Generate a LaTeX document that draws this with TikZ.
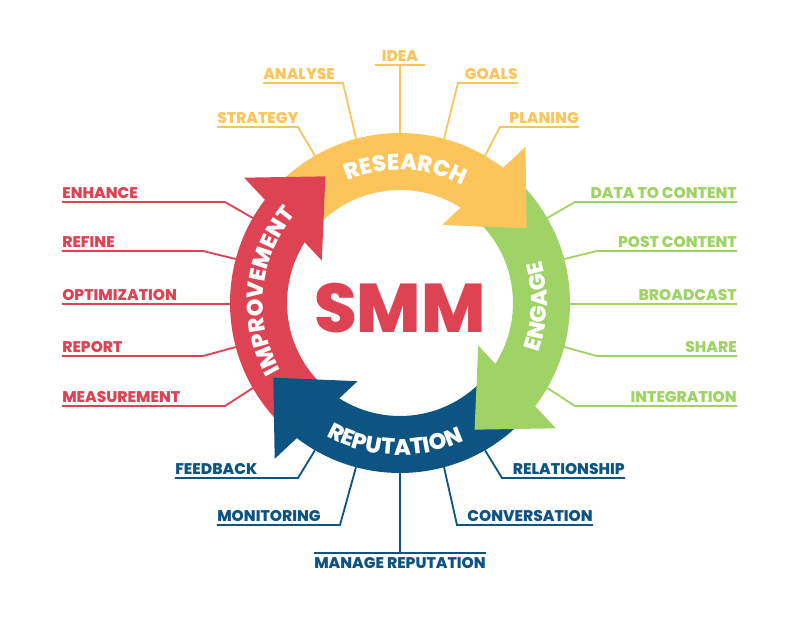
\documentclass[tikz,border=0pt]{standalone}
\usepackage{fontspec}
\setmainfont{Poppins}[BoldFont={Poppins ExtraBold}]
\usepackage{tikz}
\usetikzlibrary{decorations.text}
\definecolor{yel}{HTML}{FCC55C}
\definecolor{rd}{HTML}{DE4353}
\definecolor{grn}{HTML}{9FD366}
\definecolor{blu}{HTML}{0E5482}
\tikzset{
  lbl/.style={font=\bfseries\fontsize{11}{11}\selectfont, inner xsep=0pt, inner ysep=2pt},
  wire/.style={line width=1.3pt},
  ringtext/.style={decorate, decoration={text along path, text align=center, text color=white,
    text={|\bfseries\fontsize{16}{16}\selectfont|#1}}}
}
\begin{document}
\begin{tikzpicture}[x=0.025cm, y=0.025cm]
 \useasboundingbox (-400,-317) rectangle (400,303);

 \node[name=strategy, lbl, text=yel, anchor=south west] at (-183,176) {STRATEGY};
 \node[name=analyse, lbl, text=yel, anchor=south west] at (-137,220) {ANALYSE};
 \node[name=idea, lbl, text=yel, anchor=south, inner xsep=5pt] at (0,238) {IDEA};
 \node[name=goals, lbl, text=yel, anchor=south east] at (118,220) {GOALS};
 \node[name=planing, lbl, text=yel, anchor=south east] at (179,176) {PLANING};
 \coordinate (strategy-b) at (-102,176);
 \coordinate (analyse-b) at (-57,220);
 \coordinate (goals-b) at (58,220);
 \coordinate (planing-b) at (100,176);
 \coordinate (strategy-c) at (120:170);
 \coordinate (analyse-c) at (105:170);
 \coordinate (idea-c) at (90:170);
 \coordinate (goals-c) at (75:170);
 \coordinate (planing-c) at (60:170);
 \draw[wire, yel] (strategy.south west) -- (strategy-b) -- (strategy-c);
 \draw[wire, yel] (analyse.south west) -- (analyse-b) -- (analyse-c);
 \draw[wire, yel] (idea.south west) -- (idea.south east);
 \draw[wire, yel] (idea.south) -- (idea-c);
 \draw[wire, yel] (goals.south east) -- (goals-b) -- (goals-c);
 \draw[wire, yel] (planing.south east) -- (planing-b) -- (planing-c);

 \node[name=enhance, lbl, text=rd, anchor=south west] at (-338,101) {ENHANCE};
 \node[name=refine, lbl, text=rd, anchor=south west] at (-338,52) {REFINE};
 \node[name=optim, lbl, text=rd, anchor=south west] at (-338,-1) {OPTIMIZATION};
 \node[name=report, lbl, text=rd, anchor=south west] at (-338,-53) {REPORT};
 \node[name=measure, lbl, text=rd, anchor=south west] at (-338,-103) {MEASUREMENT};
 \coordinate (enhance-b) at (-175,101);
 \coordinate (refine-b) at (-197,52);
 \coordinate (report-b) at (-197,-53);
 \coordinate (measure-b) at (-175,-103);
 \coordinate (enhance-c) at (150:170);
 \coordinate (refine-c) at (165:170);
 \coordinate (optim-c) at (-170,-1);
 \coordinate (report-c) at (195:170);
 \coordinate (measure-c) at (210:170);
 \draw[wire, rd] (enhance.south west) -- (enhance-b) -- (enhance-c);
 \draw[wire, rd] (refine.south west) -- (refine-b) -- (refine-c);
 \draw[wire, rd] (optim.south west) -- (optim-c);
 \draw[wire, rd] (report.south west) -- (report-b) -- (report-c);
 \draw[wire, rd] (measure.south west) -- (measure-b) -- (measure-c);

 \node[name=datacont, lbl, text=grn, anchor=south east] at (337,101) {DATA TO CONTENT};
 \node[name=postcont, lbl, text=grn, anchor=south east] at (337,52) {POST CONTENT};
 \node[name=broadcast, lbl, text=grn, anchor=south east] at (337,-1) {BROADCAST};
 \node[name=share, lbl, text=grn, anchor=south east] at (337,-53) {SHARE};
 \node[name=integr, lbl, text=grn, anchor=south east] at (337,-103) {INTEGRATION};
 \coordinate (datacont-b) at (175,101);
 \coordinate (postcont-b) at (197,52);
 \coordinate (share-b) at (197,-53);
 \coordinate (integr-b) at (175,-103);
 \coordinate (datacont-c) at (30:170);
 \coordinate (postcont-c) at (15:170);
 \coordinate (broadcast-c) at (170,-1);
 \coordinate (share-c) at (-15:170);
 \coordinate (integr-c) at (-30:170);
 \draw[wire, grn] (datacont.south east) -- (datacont-b) -- (datacont-c);
 \draw[wire, grn] (postcont.south east) -- (postcont-b) -- (postcont-c);
 \draw[wire, grn] (broadcast.south east) -- (broadcast-c);
 \draw[wire, grn] (share.south east) -- (share-b) -- (share-c);
 \draw[wire, grn] (integr.south east) -- (integr-b) -- (integr-c);

 \node[name=feedback, lbl, text=blu, anchor=south west] at (-225,-175) {FEEDBACK};
 \node[name=monitor, lbl, text=blu, anchor=south west] at (-183,-222) {MONITORING};
 \node[name=manage, lbl, text=blu, anchor=north, inner ysep=3pt] at (0,-250) {MANAGE REPUTATION};
 \node[name=convers, lbl, text=blu, anchor=south east] at (193,-222) {CONVERSATION};
 \node[name=relation, lbl, text=blu, anchor=south east] at (225,-175) {RELATIONSHIP};
 \coordinate (feedback-b) at (-102,-175);
 \coordinate (monitor-b) at (-60,-222);
 \coordinate (convers-b) at (57,-222);
 \coordinate (relation-b) at (102,-175);
 \coordinate (feedback-c) at (240:170);
 \coordinate (monitor-c) at (255:170);
 \coordinate (manage-c) at (270:170);
 \coordinate (convers-c) at (285:170);
 \coordinate (relation-c) at (300:170);
 \draw[wire, blu] (feedback.south west) -- (feedback-b) -- (feedback-c);
 \draw[wire, blu] (monitor.south west) -- (monitor-b) -- (monitor-c);
 \draw[wire, blu] (manage.north west) -- (manage.north east);
 \draw[wire, blu] (manage.north) -- (manage-c);
 \draw[wire, blu] (convers.south east) -- (convers-b) -- (convers-c);
 \draw[wire, blu] (relation.south east) -- (relation-b) -- (relation-c);

 \fill[yel] (137.5:170) arc[start angle=137.5, end angle=48.5, radius=170] -- (48.5:113) arc[start angle=48.5, end angle=137.5, radius=113] -- cycle;
 \fill[yel] (30.5:147) -- (51.2:200) -- (61.5:89) -- cycle;
 \fill[rd] (227.5:170) arc[start angle=227.5, end angle=138.5, radius=170] -- (138.5:113) arc[start angle=138.5, end angle=227.5, radius=113] -- cycle;
 \fill[rd] (120.5:147) -- (141.2:200) -- (151.5:89) -- cycle;
 \fill[blu] (-42.5:170) arc[start angle=-42.5, end angle=-131.5, radius=170] -- (-131.5:113) arc[start angle=-131.5, end angle=-42.5, radius=113] -- cycle;
 \fill[blu] (-149.5:147) -- (-128.8:200) -- (-118.5:89) -- cycle;
 \fill[grn] (47.5:170) arc[start angle=47.5, end angle=-41.5, radius=170] -- (-41.5:113) arc[start angle=-41.5, end angle=47.5, radius=113] -- cycle;
 \fill[grn] (-59.5:147) -- (-38.8:200) -- (-28.5:89) -- cycle;
 \fill[yel] (30.5:147) -- (51.2:200) -- (61.5:89) -- cycle;

 \path[ringtext={RESEARCH}] (140:133) arc[start angle=140, end angle=35, radius=133];
 \path[ringtext={IMPROVEMENT}] (225:137) arc[start angle=225, end angle=124, radius=137];
 \path[ringtext={ENGAGE}] (-50:147) arc[start angle=-50, end angle=47, radius=147];
 \path[ringtext={REPUTATION}] (218:152) arc[start angle=218, end angle=318, radius=152];

 \node[name=smm, text=rd, font=\bfseries\fontsize{49}{49}\selectfont] at (0,-5) {SMM};
\end{tikzpicture}
\end{document}
